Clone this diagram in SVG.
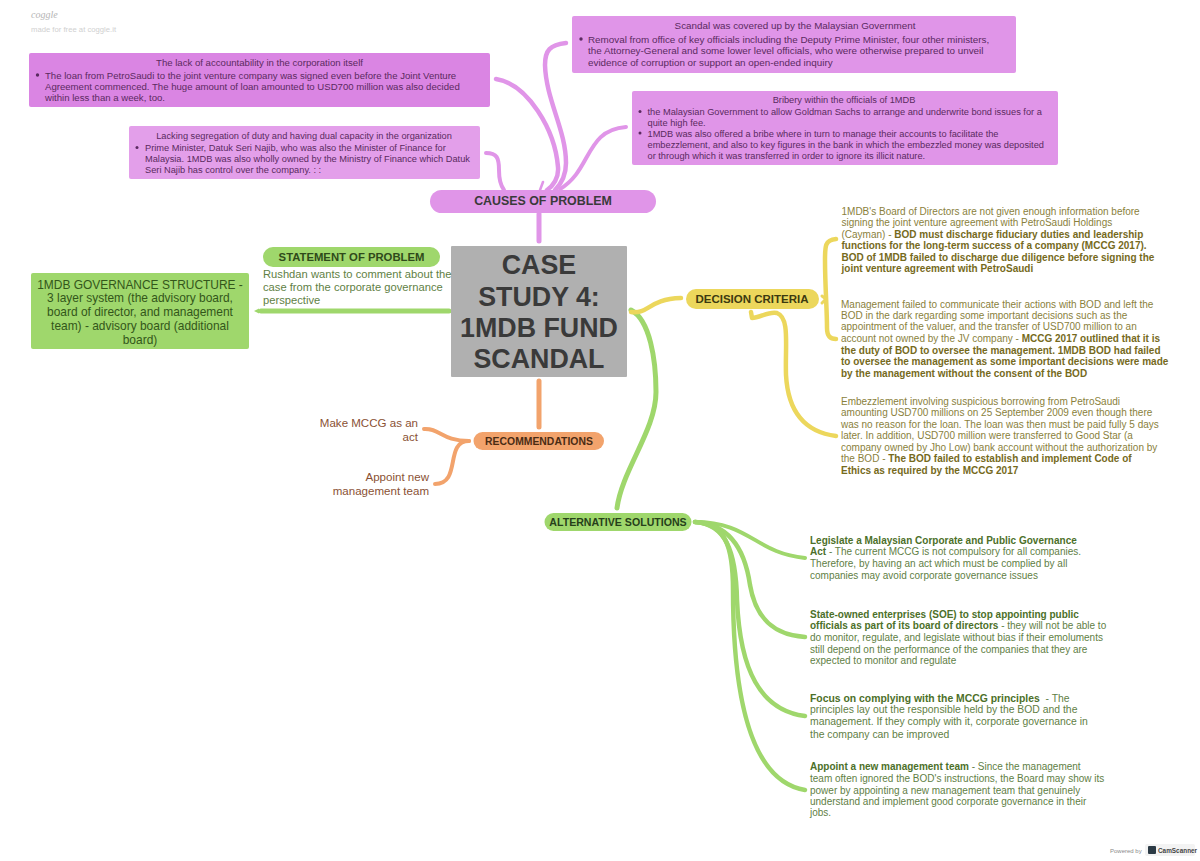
<svg xmlns="http://www.w3.org/2000/svg" width="1200" height="861" viewBox="0 0 1200 861">
<style>
text{font-family:"Liberation Sans",Arial,sans-serif}
.c{fill:none;stroke-linecap:round;stroke-linejoin:round}
.p{stroke:#e095e8}.g{stroke:#9fd76c}.y{stroke:#ecd75c}.o{stroke:#f2a36c}
.pt{font-size:9.85px;fill:#5a2a60}
.s{font-size:9.25px}
.l{font-size:9.6px}
.m{text-anchor:middle}
.yt{font-size:10px;fill:#8a7f3c}
.gt{font-size:10px;fill:#5f8045}
.a3{font-size:10.4px}
.ot{font-size:11.55px;fill:#8a5134;text-anchor:end}
.yb{fill:#766a1c;font-weight:700}
.gb{fill:#4c7029;font-weight:700}
.h{font-weight:700;text-anchor:middle;fill:#3a3a3a}
</style>
<rect width="1200" height="861" fill="#fff"/>
<g id="branding">
<text x="31" y="18" font-size="10" font-style="italic" fill="#b5b5b5" style="font-family:'Liberation Serif',serif">coggle</text>
<text x="31" y="32" font-size="7.7" fill="#d0d0d0">made for free at coggle.it</text>
<text x="1110" y="853" font-size="6" fill="#8a8a8a">Powered by</text>
<rect x="1145" y="844" width="50" height="12" rx="2" fill="#f3f3f3"/>
<rect x="1148" y="846" width="8" height="8" rx="1" fill="#2b3a45"/>
<text x="1158" y="853" font-size="6.4" font-weight="700" fill="#444">CamScanner</text>
</g>
<g id="connectors">
<path class="c p" stroke-width="5" d="M539 241V214"/>
<path class="c p" stroke-width="4.500" d="M566 43C550 45 545 50 545 65C546 100 566 130 566 163C566 175 562 183 555 190"/>
<path class="c p" stroke-width="4.500" d="M496 79C528 84 555 130 558 167C559 178 553 186 547 190"/>
<path class="c p" stroke-width="4" d="M626 127C585 130 592 170 560 189"/>
<path class="c p" stroke-width="4" d="M486 153C497 153 499 158 499 170C499 180 501 186 504 190"/>
<path class="c p" stroke-width="2.500" d="M543 182L540 190"/>
<path class="c g" stroke-width="5" d="M449 311H261"/>
<path d="M254 311L259 308.500V313.500Z" fill="#9fd76c"/>
<path class="c g" stroke-width="5" d="M631 310C650 320 656 360 656 392C656 430 622 470 617 508"/>
<path class="c y" stroke-width="4.500" d="M631 312C650 314 648 299 681 298"/>
<path class="c y" stroke-width="4.500" d="M836 239C825 240 825 246 825 260C825 285 827 310 827 328C827 336 830 339 836 339"/>
<path class="c y" stroke-width="3" d="M822 296L826 299L822 303"/>
<path class="c y" stroke-width="4.500" d="M836 436C805 432 788 412 786 375C785 345 790 318 777 313C768 311 760 318 752 318L751 312"/>
<path class="c o" stroke-width="5" d="M539 381V427"/>
<path class="c o" stroke-width="4" d="M424 429C440 428 442 441 469 441"/>
<path class="c o" stroke-width="4" d="M435 484C462 484 444 441 469 441"/>
<path class="c g" stroke-width="4" d="M695 522C750 522 755 553 805 558"/>
<path class="c g" stroke-width="4.500" d="M695 522C730 524 745 550 750 585C756 620 775 635 805 637"/>
<path class="c g" stroke-width="4.500" d="M695 522C725 524 736 550 737 600C740 670 760 710 805 716"/>
<path class="c g" stroke-width="4.500" d="M695 522C725 524 733 545 733 590C733 680 745 780 805 790"/>
</g>
<g id="n-center"><rect x="451" y="246" width="176" height="131" rx="1" fill="#b0b0b0"/>
<text class="h" x="539" y="274" font-size="26.800">CASE</text><text class="h" x="539" y="306" font-size="26.800">STUDY 4:</text><text class="h" x="539" y="337" font-size="26.800">1MDB FUND</text><text class="h" x="539" y="368" font-size="26.800">SCANDAL</text></g>
<g id="n-causes"><rect x="430" y="190" width="226" height="23" rx="11.500" fill="#e095e8"/><text class="h" x="543" y="205" font-size="12.400">CAUSES OF PROBLEM</text></g>
<g id="n-scandal"><rect x="572" y="16" width="444" height="57" rx="2" fill="#e095e8"/>
<text class="pt m" x="795" y="28.500">Scandal was covered up by the Malaysian Government</text>
<circle cx="581" cy="39" r="1.700" fill="#5a2a60"/>
<text class="pt" x="588" y="42.500">Removal from office of key officials including the Deputy Prime Minister, four other ministers,</text>
<text class="pt" x="588" y="54">the Attorney-General and some lower level officials, who were otherwise prepared to unveil</text>
<text class="pt" x="588" y="65.500">evidence of corruption or support an open-ended inquiry</text></g>
<g id="n-lack"><rect x="29" y="53" width="461" height="54" rx="2" fill="#da85e3"/>
<text class="pt l m" x="259.500" y="65.500">The lack of accountability in the corporation itself</text>
<circle cx="37.500" cy="75" r="1.700" fill="#5a2a60"/>
<text class="pt l" x="45" y="78.500">The loan from PetroSaudi to the joint venture company was signed even before the Joint Venture</text>
<text class="pt l" x="45" y="89.700">Agreement commenced. The huge amount of loan amounted to USD700 million was also decided</text>
<text class="pt l" x="45" y="101">within less than a week, too.</text></g>
<g id="n-lacking"><rect x="129" y="126" width="351" height="53" rx="2" fill="#e39fea"/>
<text class="pt s m" x="304" y="138.500">Lacking segregation of duty and having dual capacity in the organization</text>
<circle cx="137" cy="147.500" r="1.500" fill="#5a2a60"/>
<text class="pt s" x="145" y="151">Prime Minister, Datuk Seri Najib, who was also the Minister of Finance for</text>
<text class="pt s" x="145" y="162">Malaysia. 1MDB was also wholly owned by the Ministry of Finance which Datuk</text>
<text class="pt s" x="145" y="173">Seri Najib has control over the company. : :</text></g>
<g id="n-bribery"><rect x="632" y="91" width="426" height="74" rx="2" fill="#e095e8"/>
<text class="pt s m" x="844" y="103">Bribery within the officials of 1MDB</text>
<circle cx="640" cy="111.500" r="1.500" fill="#5a2a60"/>
<text class="pt s" x="647.500" y="115">the Malaysian Government to allow Goldman Sachs to arrange and underwrite bond issues for a</text>
<text class="pt s" x="647.500" y="125.500">quite high fee.</text>
<circle cx="640" cy="133" r="1.500" fill="#5a2a60"/>
<text class="pt s" x="647.500" y="136.500">1MDB was also offered a bribe where in turn to manage their accounts to facilitate the</text>
<text class="pt s" x="647.500" y="147.500">embezzlement, and also to key figures in the bank in which the embezzled money was deposited</text>
<text class="pt s" x="647.500" y="158.500">or through which it was transferred in order to ignore its illicit nature.</text></g>
<g id="n-statement"><rect x="263" y="247" width="177" height="20" rx="10" fill="#9fd76c"/><text class="h" x="351.500" y="261" font-size="11.300" style="fill:#2f4a1a">STATEMENT OF PROBLEM</text></g>
<g id="n-rushdan" font-size="11.200" fill="#5f7f45"><text x="263" y="278">Rushdan wants to comment about the</text><text x="263" y="291">case from the corporate governance</text><text x="263" y="304">perspective</text></g>
<g id="n-governance"><rect x="31" y="273" width="218" height="76" rx="2" fill="#9fd76c"/>
<g font-size="11.950" fill="#33561a" text-anchor="middle"><text x="140" y="288.500">1MDB GOVERNANCE STRUCTURE -</text><text x="140" y="302">3 layer system (the advisory board,</text><text x="140" y="316">board of director, and management</text><text x="140" y="330">team) - advisory board (additional</text><text x="140" y="344">board)</text></g></g>
<g id="n-decision"><rect x="686" y="289" width="133" height="20" rx="10" fill="#ecd75c"/><text class="h" x="752" y="303" font-size="11.500" style="fill:#3c3a10">DECISION CRITERIA</text></g>
<g id="n-d1">
<text class="yt" x="841.500" y="214.500">1MDB's Board of Directors are not given enough information before</text>
<text class="yt" x="841.500" y="226">signing the joint venture agreement with PetroSaudi Holdings</text>
<text class="yt" x="841.500" y="237.500">(Cayman) - <tspan class="yb">BOD must discharge fiduciary duties and leadership</tspan></text>
<text class="yt yb" x="841.500" y="249">functions for the long-term success of a company (MCCG 2017).</text>
<text class="yt yb" x="841.500" y="261">BOD of 1MDB failed to discharge due diligence before signing the</text>
<text class="yt yb" x="841.500" y="272">joint venture agreement with PetroSaudi</text></g>
<g id="n-d2">
<text class="yt" x="841" y="307.500">Management failed to communicate their actions with BOD and left the</text>
<text class="yt" x="841" y="319">BOD in the dark regarding some important decisions such as the</text>
<text class="yt" x="841" y="330">appointment of the valuer, and the transfer of USD700 million to an</text>
<text class="yt" x="841" y="342">account not owned by the JV company - <tspan class="yb">MCCG 2017 outlined that it is</tspan></text>
<text class="yt yb" x="841" y="353.500">the duty of BOD to oversee the management. 1MDB BOD had failed</text>
<text class="yt yb" x="841" y="365">to oversee the management as some important decisions were made</text>
<text class="yt yb" x="841" y="376.500">by the management without the consent of the BOD</text></g>
<g id="n-d3">
<text class="yt" x="841" y="405">Embezzlement involving suspicious borrowing from PetroSaudi</text>
<text class="yt" x="841" y="416">amounting USD700 millions on 25 September 2009 even though there</text>
<text class="yt" x="841" y="427.500">was no reason for the loan. The loan was then must be paid fully 5 days</text>
<text class="yt" x="841" y="439">later. In addition, USD700 million were transferred to Good Star (a</text>
<text class="yt" x="841" y="451">company owned by Jho Low) bank account without the authorization by</text>
<text class="yt" x="841" y="462">the BOD - <tspan class="yb">The BOD failed to establish and implement Code of</tspan></text>
<text class="yt yb" x="841" y="474">Ethics as required by the MCCG 2017</text></g>
<g id="n-reco"><rect x="473.500" y="432" width="130.500" height="18" rx="9" fill="#f2a36c"/><text class="h" x="539" y="445" font-size="10.400" style="fill:#4a2c14">RECOMMENDATIONS</text></g>
<g id="n-r1"><text class="ot" x="418" y="427">Make MCCG as an</text><text class="ot" x="418" y="441">act</text></g>
<g id="n-r2"><text class="ot" x="429" y="481">Appoint new</text><text class="ot" x="429" y="495">management team</text></g>
<g id="n-alt"><rect x="544.500" y="513" width="147" height="18" rx="9" fill="#9fd76c"/><text class="h" x="618" y="526" font-size="10.600" style="fill:#26401a">ALTERNATIVE SOLUTIONS</text></g>
<g id="n-a1">
<text class="gt gb" x="810" y="544">Legislate a Malaysian Corporate and Public Governance</text>
<text class="gt" x="810" y="555"><tspan class="gb">Act</tspan> - The current MCCG is not compulsory for all companies.</text>
<text class="gt" x="810" y="567">Therefore, by having an act which must be complied by all</text>
<text class="gt" x="810" y="578.500">companies may avoid corporate governance issues</text></g>
<g id="n-a2">
<text class="gt gb" x="810" y="618">State-owned enterprises (SOE) to stop appointing public</text>
<text class="gt" x="810" y="629"><tspan class="gb">officials as part of its board of directors</tspan> - they will not be able to</text>
<text class="gt" x="810" y="641">do monitor, regulate, and legislate without bias if their emoluments</text>
<text class="gt" x="810" y="652.500">still depend on the performance of the companies that they are</text>
<text class="gt" x="810" y="664">expected to monitor and regulate</text></g>
<g id="n-a3">
<text class="gt a3" x="810" y="701.500" xml:space="preserve"><tspan class="gb">Focus on complying with the MCCG principles</tspan>  - The</text>
<text class="gt a3" x="810" y="713">principles lay out the responsible held by the BOD and the</text>
<text class="gt a3" x="810" y="725">management. If they comply with it, corporate governance in</text>
<text class="gt a3" x="810" y="737.500">the company can be improved</text></g>
<g id="n-a4">
<text class="gt" x="810" y="770"><tspan class="gb">Appoint a new management team</tspan> - Since the management</text>
<text class="gt" x="810" y="781.500">team often ignored the BOD's instructions, the Board may show its</text>
<text class="gt" x="810" y="793.500">power by appointing a new management team that genuinely</text>
<text class="gt" x="810" y="805">understand and implement good corporate governance in their</text>
<text class="gt" x="810" y="816">jobs.</text></g>
</svg>
